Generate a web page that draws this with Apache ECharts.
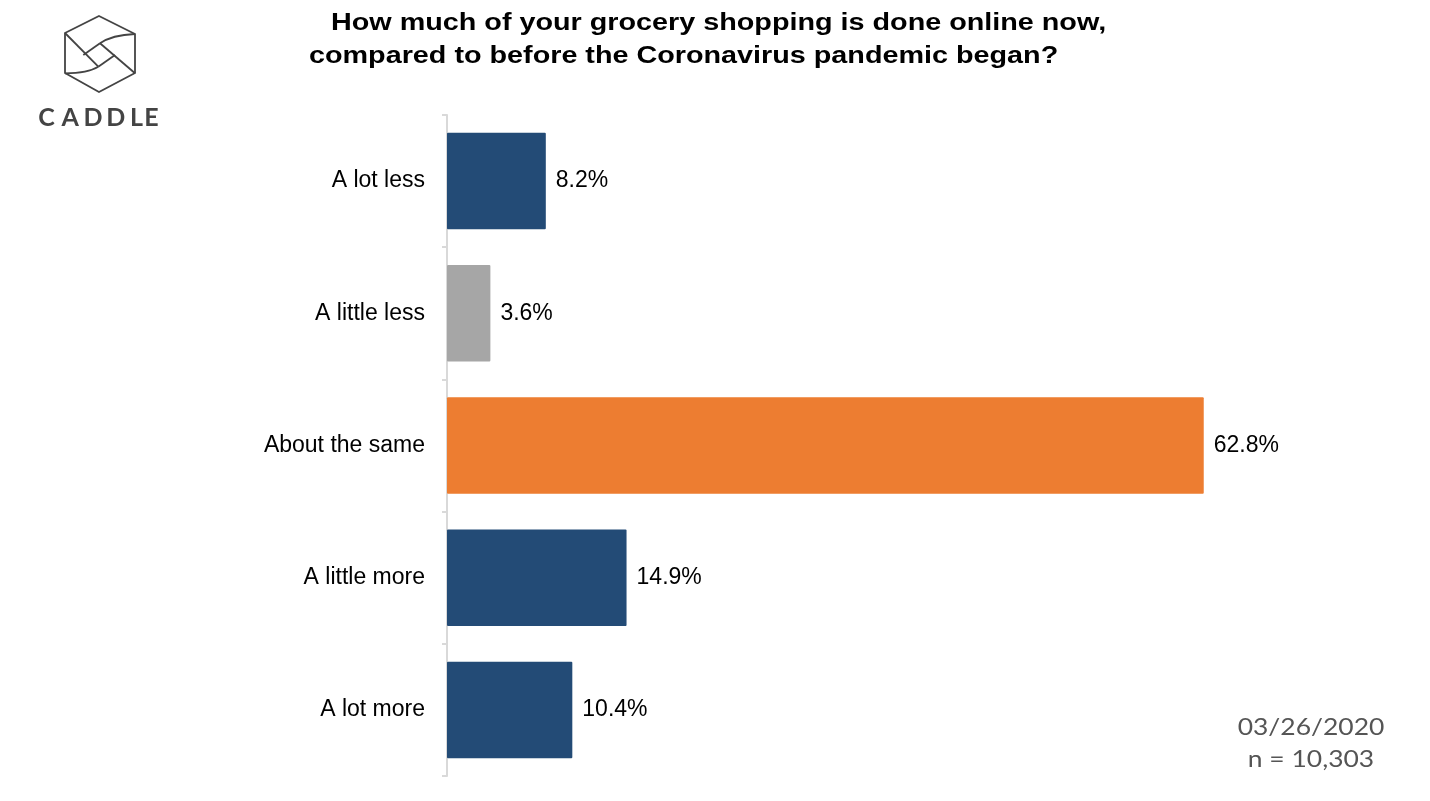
<!DOCTYPE html>
<html>
<head>
<meta charset="utf-8">
<script src="https://cdn.jsdelivr.net/npm/echarts@6/dist/echarts.min.js"></script>
<style>
html,body{margin:0;padding:0;background:#fff;}
#chart{width:1430px;height:801px;}
</style>
</head>
<body>
<div id="chart"></div>
<script>
var categories = ['A lot less', 'A little less', 'About the same', 'A little more', 'A lot more'];
var values = [8.2, 3.6, 62.8, 14.9, 10.4];
var barColors = ['#234b76', '#a6a6a6', '#ed7d31', '#234b76', '#234b76'];
var titleLines = ['How much of your grocery shopping is done online now,', 'compared to before the Coronavirus pandemic began?'];
var footLines = ['03/26/2020', 'n = 10,303'];
var brand = 'CADDLE';

var chart = echarts.init(document.getElementById('chart'));

var brandX = [46.5, 70.2, 93, 115.7, 136.5, 151.5];
var brandEls = brand.split('').map(function (ch, i) {
  return {
    type: 'text', z: 10,
    style: { x: brandX[i], y: 118, text: ch, fill: '#444444', font: 'bold 25px Lato, "Noto Sans", sans-serif', align: 'center', verticalAlign: 'middle' }
  };
});

var lbl = '"Liberation Sans", Arial, sans-serif';

var option = {
  backgroundColor: '#ffffff',
  animation: false,
  grid: { left: 447, top: 115, bottom: 25, width: 843.5 },
  xAxis: { type: 'value', min: 0, max: 70, show: false },
  yAxis: {
    type: 'category', data: categories, inverse: true,
    axisLine: { show: true, lineStyle: { color: '#d9d9d9', width: 2 } },
    axisTick: { show: true, length: 5, lineStyle: { color: '#d9d9d9', width: 2 } },
    axisLabel: { margin: 22, color: '#000000', fontSize: 23, fontFamily: lbl }
  },
  series: [{
    type: 'bar',
    data: values.map(function (v, i) { return { value: v, itemStyle: { color: barColors[i] } }; }),
    barWidth: '73%',
    itemStyle: { borderRadius: 1 },
    label: {
      show: true, position: 'right', distance: 10,
      color: '#000000', fontSize: 23, fontFamily: lbl,
      formatter: function (p) { return p.value.toFixed(1) + '%'; }
    }
  }],
  graphic: [
    { type: 'text', x: 331, y: 24, scaleX: 1.25, style: { x: 0, y: 0, text: titleLines[0], fill: '#000', font: 'bold 23px "Liberation Sans", Arial, sans-serif', verticalAlign: 'middle' } },
    { type: 'text', x: 309, y: 57, scaleX: 1.25, style: { x: 0, y: 0, text: titleLines[1], fill: '#000', font: 'bold 23px "Liberation Sans", Arial, sans-serif', verticalAlign: 'middle' } },
    { type: 'text', x: 1311, y: 728, scaleX: 1.15, style: { x: 0, y: 0, text: footLines[0], fill: '#555555', font: '23px Lato, "Noto Sans", sans-serif', align: 'center', verticalAlign: 'middle' } },
    { type: 'text', x: 1311, y: 760, scaleX: 1.15, style: { x: 0, y: 0, text: footLines[1], fill: '#555555', font: '23px Lato, "Noto Sans", sans-serif', align: 'center', verticalAlign: 'middle' } },
    { type: 'polygon', shape: { points: [[99,16],[135,34],[135,73],[99,92],[65,73],[65,33]] }, style: { fill: 'none', stroke: '#444', lineWidth: 1.8 } },
    { type: 'polyline', shape: { points: [[65,33],[98.3,66.7]] }, style: { fill: 'none', stroke: '#444', lineWidth: 1.8 } },
    { type: 'polyline', shape: { points: [[100,43.3],[135,73.3]] }, style: { fill: 'none', stroke: '#444', lineWidth: 1.8 } },
    { type: 'bezierCurve', shape: { x1: 135, y1: 34, x2: 100, y2: 43.3, cpx1: 112, cpy1: 35 }, style: { fill: 'none', stroke: '#444', lineWidth: 1.8 } },
    { type: 'polyline', shape: { points: [[100,43.3],[83.3,55]] }, style: { fill: 'none', stroke: '#444', lineWidth: 1.8 } },
    { type: 'bezierCurve', shape: { x1: 65, y1: 73.3, x2: 98.3, y2: 66.7, cpx1: 88, cpy1: 73 }, style: { fill: 'none', stroke: '#444', lineWidth: 1.8 } },
    { type: 'polyline', shape: { points: [[98.3,66.7],[115,55]] }, style: { fill: 'none', stroke: '#444', lineWidth: 1.8 } }
  ].concat(brandEls)
};
chart.setOption(option);
</script>
</body>
</html>
